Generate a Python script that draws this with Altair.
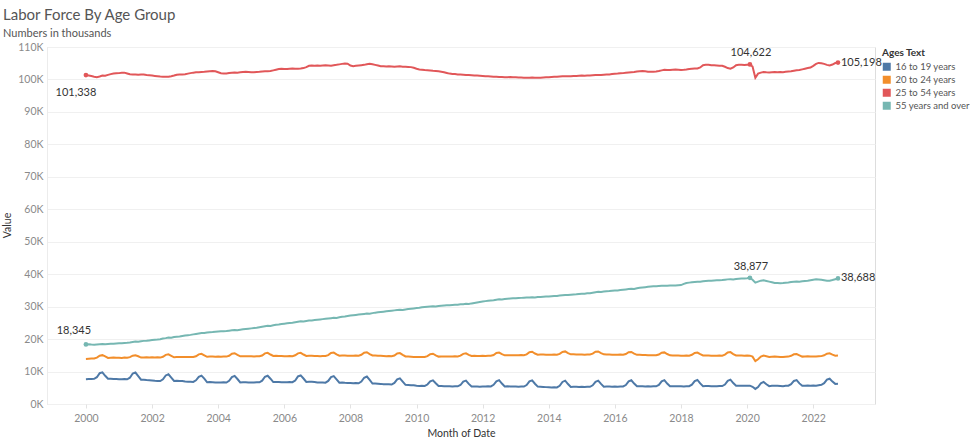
import altair as alt
import pandas as pd

# Labor force by age group, monthly, Jan 2000 - Oct 2022 (thousands)
ages = ["16 to 19 years", "20 to 24 years", "25 to 54 years", "55 years and over"]
colors = ["#4e79a7", "#f28e2b", "#e15759", "#76b7b2"]

age_16_19 = [
    7650, 7700, 7720, 7760, 8250, 9500, 9750, 8700, 7780, 7800, 7740, 7700,
    7650, 7620, 7680, 7600, 8100, 9400, 9700, 8600, 7500, 7450, 7380, 7350,
    7250, 7150, 7100, 7080, 7600, 8800, 9150, 8150, 7100, 7150, 7080, 7050,
    6900, 6850, 6880, 6800, 7300, 8350, 8750, 7800, 6700, 6750, 6720, 6650,
    6650, 6600, 6680, 6620, 7150, 8300, 8650, 7700, 6650, 6700, 6680, 6650,
    6650, 6620, 6700, 6680, 7200, 8400, 8700, 7800, 6750, 6780, 6800, 6720,
    6700, 6680, 6750, 6720, 7250, 8500, 8800, 7850, 6800, 6850, 6820, 6780,
    6650, 6600, 6650, 6580, 7100, 8300, 8600, 7600, 6550, 6600, 6520, 6480,
    6450, 6400, 6450, 6380, 6900, 8100, 8450, 7400, 6300, 6320, 6250, 6200,
    6100, 6050, 6080, 6000, 6500, 7600, 7900, 6900, 5900, 5850, 5800, 5750,
    5600, 5550, 5600, 5580, 6000, 7000, 7300, 6400, 5550, 5520, 5500, 5480,
    5450, 5420, 5480, 5450, 5850, 6900, 7200, 6200, 5400, 5420, 5380, 5350,
    5400, 5380, 5450, 5420, 5900, 7000, 7350, 6300, 5400, 5450, 5420, 5380,
    5380, 5350, 5400, 5380, 5850, 7000, 7300, 6250, 5350, 5300, 5250, 5200,
    5150, 5100, 5150, 5120, 5600, 6800, 7200, 6150, 5250, 5280, 5300, 5250,
    5300, 5250, 5320, 5300, 5750, 6850, 7200, 6200, 5350, 5400, 5380, 5350,
    5400, 5350, 5420, 5400, 5850, 6950, 7300, 6300, 5450, 5480, 5450, 5420,
    5450, 5400, 5480, 5450, 5900, 7000, 7350, 6300, 5450, 5500, 5480, 5450,
    5450, 5420, 5500, 5480, 5950, 7050, 7400, 6350, 5500, 5550, 5520, 5480,
    5500, 5480, 5550, 5520, 6000, 7150, 7500, 6450, 5600, 5650, 5620, 5600,
    5600, 5650, 5300, 4650, 5200, 6400, 6800, 6100, 5500, 5600, 5650, 5600,
    5550, 5500, 5600, 5650, 6100, 7100, 7350, 6350, 5600, 5650, 5700, 5650,
    5700, 5650, 5800, 5900, 6400, 7500, 7800, 6900, 6200, 6250,
]

age_20_24 = [
    13900, 13950, 14000, 14050, 14300, 14900, 15050, 14650, 14200, 14250, 14300, 14250,
    14250, 14200, 14300, 14250, 14450, 14900, 15000, 14700, 14300, 14350, 14400, 14350,
    14400, 14350, 14380, 14300, 14550, 15150, 15300, 14850, 14400, 14450, 14500, 14450,
    14500, 14450, 14500, 14480, 14700, 15300, 15450, 15000, 14550, 14600, 14620, 14580,
    14600, 14550, 14620, 14600, 14850, 15500, 15650, 15150, 14700, 14750, 14720, 14680,
    14700, 14650, 14720, 14700, 14950, 15600, 15750, 15250, 14800, 14850, 14820, 14780,
    14750, 14700, 14780, 14750, 15000, 15600, 15750, 15250, 14800, 14850, 14830, 14800,
    14800, 14750, 14820, 14800, 15050, 15700, 15850, 15300, 14900, 14950, 14920, 14880,
    14900, 14850, 14920, 14900, 15150, 15800, 15950, 15400, 14950, 14950, 14900, 14850,
    14800, 14750, 14780, 14700, 14950, 15550, 15700, 15150, 14650, 14600, 14550, 14500,
    14500, 14450, 14500, 14480, 14750, 15350, 15500, 15000, 14600, 14650, 14620, 14600,
    14650, 14600, 14680, 14650, 14900, 15450, 15600, 15150, 14800, 14850, 14820, 14800,
    14850, 14800, 14880, 14850, 15100, 15700, 15850, 15350, 15000, 15050, 15020, 15000,
    15050, 15000, 15080, 15050, 15300, 15950, 16100, 15550, 15200, 15250, 15220, 15200,
    15200, 15150, 15220, 15200, 15450, 16050, 16200, 15650, 15300, 15300, 15280, 15250,
    15250, 15200, 15280, 15250, 15500, 16100, 16200, 15700, 15300, 15280, 15250, 15200,
    15200, 15150, 15220, 15200, 15400, 15950, 16050, 15550, 15150, 15150, 15120, 15100,
    15050, 15000, 15050, 15020, 15250, 15800, 15900, 15400, 15000, 14980, 14950, 14920,
    14900, 14850, 14920, 14900, 15150, 15750, 15850, 15350, 14950, 14950, 14920, 14900,
    14900, 14850, 14920, 14900, 15200, 15850, 16000, 15400, 14950, 14950, 14930, 14900,
    14950, 14900, 14600, 13200, 13800, 14600, 14900, 14700, 14500, 14550, 14600, 14550,
    14500, 14450, 14550, 14600, 14850, 15300, 15400, 15000, 14600, 14650, 14680, 14650,
    14650, 14600, 14700, 14750, 15000, 15500, 15600, 15200, 14900, 14950,
]

age_25_54 = [
    101338, 101200, 101050, 100850, 100700, 100900, 101200, 101150, 101400, 101650, 101850, 101900,
    101950, 102050, 102100, 101850, 101600, 101500, 101550, 101450, 101500, 101550, 101400, 101300,
    101200, 101100, 101000, 100900, 100850, 100800, 100850, 101000, 101200, 101450, 101550, 101500,
    101600, 101800, 101950, 102100, 102200, 102250, 102300, 102350, 102450, 102550, 102600, 102500,
    102200, 101900, 101800, 101850, 102000, 102100, 102150, 102100, 102200, 102300, 102350, 102300,
    102250, 102200, 102300, 102350, 102450, 102500, 102550, 102600, 102800, 103000, 103200, 103300,
    103250, 103200, 103300, 103350, 103300, 103300, 103350, 103500, 103800, 104200, 104300, 104250,
    104300, 104250, 104300, 104350, 104300, 104250, 104400, 104500, 104650, 104800, 104900, 104850,
    104300, 104100, 104200, 104300, 104400, 104500, 104700, 104800, 104700, 104500, 104300, 104100,
    104100, 104000, 104050, 104000, 103950, 104000, 104050, 103950, 103900, 103850, 103800, 103600,
    103300, 103100, 103000, 102900, 102850, 102750, 102650, 102600, 102500, 102400, 102200, 102000,
    101800, 101700, 101650, 101550, 101500, 101450, 101400, 101350, 101300, 101250, 101200, 101150,
    101100, 101000, 100950, 100900, 100850, 100800, 100750, 100750, 100700, 100700, 100750, 100700,
    100650, 100600, 100600, 100550, 100500, 100550, 100600, 100550, 100500, 100550, 100600, 100650,
    100700, 100750, 100800, 100850, 100900, 100950, 101000, 100950, 101000, 101050, 101100, 101150,
    101200, 101150, 101200, 101250, 101300, 101350, 101400, 101350, 101450, 101500, 101550, 101650,
    101750, 101800, 101900, 101950, 102050, 102150, 102250, 102300, 102450, 102550, 102600, 102500,
    102400, 102350, 102400, 102450, 102600, 102800, 102950, 102900, 102950, 103000, 103050, 103000,
    102950, 103000, 103100, 103250, 103300, 103350, 103400, 103700, 104400, 104550, 104500, 104400,
    104350, 104300, 104250, 104200, 103900, 103500, 103300, 103700, 104400, 104550, 104500, 104450,
    104550, 104622, 104000, 100500, 101800, 102100, 102300, 102200, 102150, 102250, 102300, 102200,
    102300, 102250, 102350, 102450, 102500, 102700, 102850, 102900, 103100, 103300, 103500, 103650,
    104200, 104800, 105100, 105000, 104800, 104500, 104300, 104600, 105050, 105198,
]

age_55_over = [
    18345, 18420, 18300, 18250, 18350, 18400, 18450, 18380, 18500, 18560, 18600, 18650,
    18700, 18750, 18800, 18850, 18950, 19100, 19250, 19200, 19350, 19450, 19500, 19600,
    19700, 19800, 19850, 19950, 20150, 20300, 20500, 20450, 20650, 20750, 20800, 20950,
    21100, 21200, 21300, 21450, 21600, 21750, 21900, 21850, 22000, 22100, 22150, 22250,
    22350, 22400, 22450, 22500, 22600, 22700, 22800, 22750, 22900, 23000, 23100, 23200,
    23300, 23400, 23500, 23650, 23800, 23950, 24100, 24050, 24250, 24400, 24500, 24650,
    24750, 24850, 24950, 25050, 25200, 25350, 25500, 25450, 25600, 25700, 25750, 25850,
    25950, 26050, 26150, 26250, 26350, 26450, 26550, 26500, 26700, 26850, 26950, 27100,
    27250, 27350, 27450, 27550, 27650, 27750, 27850, 27800, 28000, 28150, 28250, 28350,
    28450, 28550, 28650, 28750, 28850, 28950, 29050, 29000, 29150, 29250, 29350, 29450,
    29550, 29650, 29800, 29900, 30000, 30050, 30100, 30050, 30200, 30300, 30350, 30400,
    30450, 30500, 30550, 30600, 30700, 30750, 30850, 30800, 31000, 31150, 31300, 31450,
    31600, 31700, 31800, 31900, 32000, 32150, 32250, 32200, 32350, 32450, 32500, 32550,
    32600, 32650, 32700, 32750, 32800, 32850, 32900, 32850, 32950, 33000, 33050, 33100,
    33150, 33200, 33250, 33300, 33400, 33500, 33600, 33550, 33650, 33750, 33800, 33900,
    33950, 34000, 34100, 34150, 34300, 34450, 34550, 34500, 34650, 34750, 34800, 34900,
    34950, 35000, 35100, 35200, 35300, 35400, 35500, 35450, 35650, 35800, 35900, 36000,
    36100, 36200, 36250, 36300, 36350, 36400, 36450, 36400, 36500, 36550, 36500, 36600,
    36650, 37000, 37300, 37400, 37500, 37600, 37700, 37650, 37800, 37900, 37950, 38000,
    38050, 38100, 38150, 38200, 38300, 38400, 38450, 38350, 38500, 38600, 38650, 38700,
    38750, 38877, 38300, 37400, 37700, 38000, 38100, 37900, 37700, 37500, 37300, 37250,
    37200, 37250, 37350, 37450, 37600, 37700, 37750, 37700, 37800, 37900, 38000, 38150,
    38300, 38400, 38350, 38250, 38100, 37950, 38000, 38200, 38450, 38688,
]

months = pd.date_range("2000-01-01", periods=len(age_25_54), freq="MS")

frames = []
for name, vals in zip(ages, [age_16_19, age_20_24, age_25_54, age_55_over]):
    frames.append(pd.DataFrame({"Month": months, "Ages Text": name, "Value": vals}))
data = pd.concat(frames, ignore_index=True)

# Marked points: first month, February 2020 and latest month for the two labelled series
feb_2020 = (2020 - 2000) * 12 + 1
notes = []
for name, vals in [(ages[2], age_25_54), (ages[3], age_55_over)]:
    notes.append({"Month": months[0], "Ages Text": name, "Value": vals[0], "pos": "start_" + name[:2]})
    notes.append({"Month": months[feb_2020], "Ages Text": name, "Value": vals[feb_2020], "pos": "mid"})
    notes.append({"Month": months[-1], "Ages Text": name, "Value": vals[-1], "pos": "end"})
notes = pd.DataFrame(notes)

FONT = "Lato"

x_enc = alt.X(
    "Month:T",
    title="Month of Date",
    scale=alt.Scale(
        domain=[alt.DateTime(year=1998, month=10, date=28), alt.DateTime(year=2023, month=11, date=14)],
        nice=False,
    ),
    axis=alt.Axis(
        values=[alt.DateTime(year=y, month=1, date=1) for y in range(2000, 2023, 2)],
        format="%Y",
        grid=False,
        domain=False,
        ticks=True,
        tickSize=4,
        tickColor="#e2e2e2",
        labelColor="#8a8a8a",
        labelFontSize=10.5,
        labelPadding=5,
        titleColor="#333333",
        titleFontSize=10.5,
        titleFontWeight="normal",
        titlePadding=5,
    ),
)
y_enc = alt.Y(
    "Value:Q",
    title="Value",
    scale=alt.Scale(domain=[0, 110000], nice=False),
    axis=alt.Axis(
        values=list(range(0, 110001, 10000)),
        labelExpr="datum.value / 1000 + 'K'",
        labelOverlap=False,
        grid=True,
        gridColor="#f0f0f0",
        domain=True,
        domainColor="#ececec",
        ticks=False,
        labelColor="#8a8a8a",
        labelFontSize=10.5,
        labelPadding=4,
        titleColor="#333333",
        titleFontSize=10.5,
        titleFontWeight="normal",
        titleX=-35,
        titleY=178,
    ),
)
color_scale = alt.Scale(domain=ages, range=colors)
color_enc = alt.Color(
    "Ages Text:N",
    scale=color_scale,
    legend=alt.Legend(
        title="Ages Text",
        orient="none",
        legendX=835,
        legendY=1,
        symbolType="square",
        symbolSize=64,
        symbolStrokeWidth=0,
        titleFontSize=10,
        titleFontWeight="bold",
        titleColor="#333333",
        titlePadding=4,
        labelFontSize=9.5,
        labelColor="#555555",
        labelOffset=4,
        labelLimit=100,
        rowPadding=2,
    ),
)

lines = alt.Chart(data).mark_line(strokeWidth=2).encode(x=x_enc, y=y_enc, color=color_enc)

dots = alt.Chart(notes).mark_circle(size=22, opacity=1).encode(
    x=x_enc, y=y_enc, color=color_enc,
)

def note_layer(pos, **kw):
    return alt.Chart(notes).transform_filter(alt.datum.pos == pos).mark_text(
        font=FONT, fontSize=11, color="#333333", **kw
    ).encode(x=x_enc, y=y_enc, text=alt.Text("Value:Q", format=","))

labels = [
    note_layer("start_25", align="center", dx=-10, dy=18),
    note_layer("start_55", align="center", dx=-12, dy=-13),
    note_layer("mid", align="center", dx=1, dy=-11),
    note_layer("end", align="left", dx=3, dy=0),
]

chart = alt.layer(lines, dots, *labels).properties(
    width=828,
    height=357,
    title=alt.TitleParams(
        "Labor Force By Age Group",
        subtitle="Numbers in thousands",
        anchor="start",
        frame="group",
        dx=-44,
        offset=3,
        font=FONT,
        fontSize=15,
        fontWeight="normal",
        color="#555555",
        subtitleFont=FONT,
        subtitleFontSize=11,
        subtitleColor="#555555",
        subtitlePadding=5,
    ),
    autosize=alt.AutoSizeParams(type="none"),
    padding={"left": 47, "top": 47, "right": 100, "bottom": 39},
).configure_view(stroke=None).configure(font=FONT)

chart.save("out.html", embed_options={"renderer": "svg", "actions": False})
